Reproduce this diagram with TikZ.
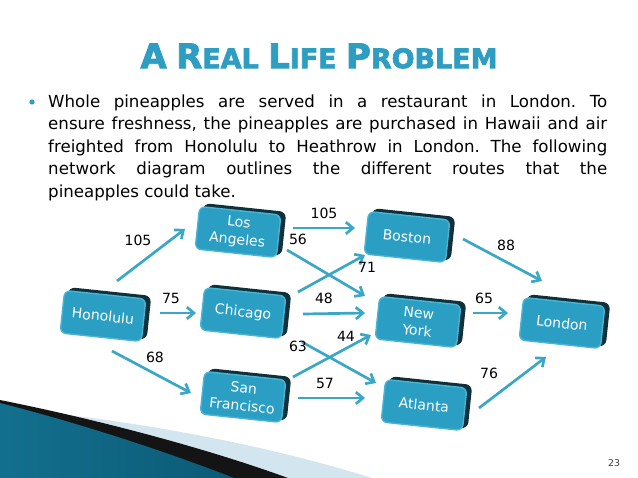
\documentclass[tikz,border=0pt]{standalone}
\usepackage{fontspec}
\setmainfont{DejaVu Sans}
\newfontfamily\titlefont[FakeBold=2.5]{DejaVu Sans Bold}
\usetikzlibrary{positioning}
\usetikzlibrary{shadows}
\usetikzlibrary{arrows.meta}

\definecolor{titleblue}{HTML}{2D9DC2}
\definecolor{arrowblue}{HTML}{3AA7C6}
\definecolor{cityfill}{HTML}{2A9EC3}
\definecolor{cityrim}{HTML}{4BB4D4}
\definecolor{cityside}{HTML}{10303A}
\definecolor{swdark}{HTML}{12708E}
\definecolor{swlight}{HTML}{4AAFD0}
\definecolor{swdeep}{HTML}{0B5A75}
\definecolor{swpale}{HTML}{D3E5EE}

\newcommand{\capsc}[2]{{\fontsize{29}{30}\selectfont #1}#2}

\begin{document}
\begin{tikzpicture}[x=0.03cm, y=-0.03cm,
        city/.style={rectangle, rounded corners=5pt, draw=cityrim, line width=1.2pt,
            fill=cityfill, text=white, minimum width=2.45cm, minimum height=1.28cm,
            inner sep=2pt, align=center, rotate=-6, font=\fontsize{12}{15}\selectfont,
            copy shadow={shadow xshift=4pt, shadow yshift=2.2pt, fill=cityside, draw=cityside}},
        arr/.style={line width=2.3pt, draw=arrowblue, -{Straight Barb[length=6pt,width=10pt]}},
        dist/.style={font=\fontsize{12}{14}\selectfont, inner sep=1pt}
        ]
        \frenchspacing
        \useasboundingbox (0,0) rectangle (638,478);
        \fill[white] (0,0) rectangle (638,478);
        % corner swoosh
        \fill[swpale] (40,412) .. controls (120,420) and (250,440) .. (372,478) -- (200,478) -- cycle;
        \fill[black!92] (0,400) .. controls (90,418) and (200,446) .. (288,478) -- (0,478) -- cycle;
        \shade[left color=swdark, middle color=swlight, right color=swdeep]
            (0,403) .. controls (90,426) and (175,455) .. (234,478) -- (0,478) -- cycle;
        % heading and text
        \node (ttl) [text=titleblue, font=\titlefont\fontsize{23}{30}\selectfont] at (319,56)
            {\capsc{A}{} \capsc{R}{EAL} \capsc{L}{IFE} \capsc{P}{ROBLEM}};
        \fill[titleblue] (32,102) circle[radius=2.6];
        \node (txt) [anchor=north west, text width=16.77cm, align=justify, inner sep=0pt,
            font=\fontsize{14.2}{19.2}\selectfont] at (48,94.5)
            {Whole pineapples are served in a restaurant in London. To\linebreak
             ensure freshness, the pineapples are purchased in Hawaii and air\linebreak
             freighted from Honolulu to Heathrow in London. The following\linebreak
             network diagram outlines the different routes that the\linebreak
             pineapples could take.};
        \node (pg) [font=\fontsize{8}{8}\selectfont, text=black!75] at (614,463) {23};
        % cities
        \node (hon) [city] at (103,316) {Honolulu};
        \node (la)  [city] at (238,232) {Los\\Angeles};
        \node (chi) [city] at (243,313) {Chicago};
        \node (sf)  [city] at (243,397) {San\\Francisco};
        \node (bos) [city] at (407,237) {Boston};
        \node (ny)  [city] at (418,322) {New\\York};
        \node (atl) [city] at (424,405) {Atlanta};
        \node (lon) [city] at (562,323) {London};
        % routes
        \draw[arr] ([shift={(14,-35)}]hon.center) -- ([shift={(-53,-3)}]la.center);
        \draw[arr] ([shift={(57,-3)}]hon.center) -- ([shift={(-47,0)}]chi.center);
        \draw[arr] ([shift={(9,35)}]hon.center) -- ([shift={(-52,-4)}]sf.center);
        \draw[arr] ([shift={(55,-4)}]la.center) -- ([shift={(-52,-9)}]bos.center);
        \draw[arr] ([shift={(49,18)}]la.center) -- ([shift={(-53,-26)}]ny.center);
        \draw[arr] ([shift={(55,-21)}]chi.center) -- ([shift={(-42,18)}]bos.center);
        \draw[arr] ([shift={(60,1)}]chi.center) -- ([shift={(-53,-9)}]ny.center);
        \draw[arr] ([shift={(59,29)}]chi.center) -- ([shift={(-48,-22)}]atl.center);
        \draw[arr] ([shift={(50,-20)}]sf.center) -- ([shift={(-47,13)}]ny.center);
        \draw[arr] ([shift={(55,1)}]sf.center) -- ([shift={(-59,-7)}]atl.center);
        \draw[arr] ([shift={(56,2)}]bos.center) -- ([shift={(-20,-42)}]lon.center);
        \draw[arr] ([shift={(55,-9)}]ny.center) -- ([shift={(-54,-10)}]lon.center);
        \draw[arr] ([shift={(55,3)}]atl.center) -- ([shift={(-16,34)}]lon.center);
        % distances
        \node (dhl) [dist] at (138,240) {105};
        \node (dhc) [dist] at (171,298) {75};
        \node (dhs) [dist] at (155,357) {68};
        \node (dlb) [dist] at (324,213) {105};
        \node (dln) [dist] at (298,239) {56};
        \node (dcb) [dist] at (367,267) {71};
        \node (dcn) [dist] at (324,298) {48};
        \node (dca) [dist] at (298,346) {63};
        \node (dsn) [dist] at (346,336) {44};
        \node (dsa) [dist] at (325,383) {57};
        \node (dbl) [dist] at (506,245) {88};
        \node (dnl) [dist] at (484,298) {65};
        \node (dal) [dist] at (489,373) {76};
\end{tikzpicture}
\end{document}
